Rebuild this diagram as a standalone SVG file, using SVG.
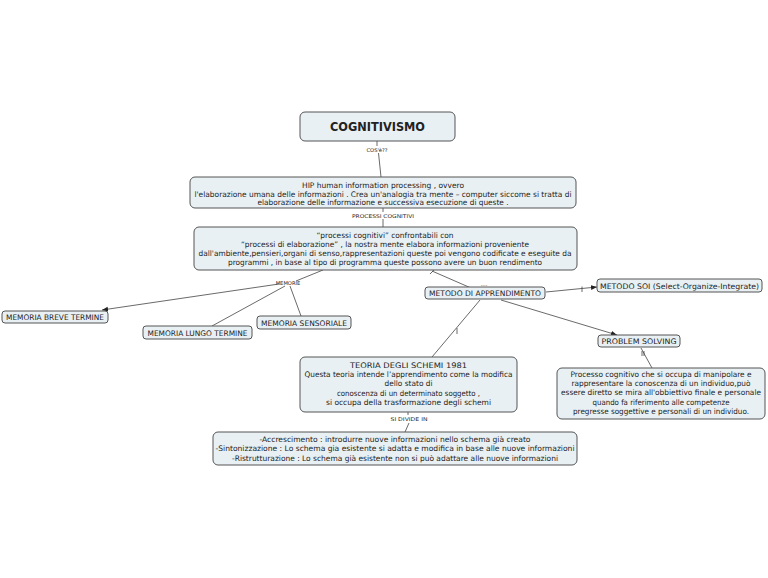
<svg xmlns="http://www.w3.org/2000/svg" width="768" height="578" viewBox="0 0 768 578">
<style>
.box{fill:#e9f0f3;stroke:#555;stroke-width:1}
text{font-family:"DejaVu Sans","Liberation Sans",sans-serif;fill:#222;text-anchor:middle}
.t{font-size:7.6px}
.lb{font-size:5.2px}
.ttl{font-size:12px;font-weight:bold}
.c{stroke:#444;stroke-width:0.8;fill:none}
</style>
<defs>
<marker id="ar" viewBox="0 0 10 10" refX="10" refY="5" markerWidth="6" markerHeight="6" orient="auto" markerUnits="userSpaceOnUse">
<path d="M0,1 L10,5 L0,9 z" fill="#222"/>
</marker>
</defs>
<rect width="768" height="578" fill="#ffffff"/>
<g id="connectors">
<line class="c" x1="377" y1="141" x2="377" y2="146"/>
<line class="c" x1="378.5" y1="153" x2="381" y2="177"/>
<line class="c" x1="383" y1="207" x2="383" y2="212"/>
<line class="c" x1="383" y1="219" x2="383" y2="227"/>
<line class="c" x1="323" y1="270" x2="296" y2="281"/>
<line class="c" x1="279" y1="284" x2="102" y2="310" marker-end="url(#ar)"/>
<line class="c" x1="285" y1="286" x2="212" y2="326"/>
<line class="c" x1="290" y1="286" x2="301" y2="316"/>
<line class="c" x1="432" y1="271" x2="471" y2="288"/>
<line class="c" x1="430" y1="274" x2="434" y2="270"/>
<line class="c" x1="546" y1="292" x2="597" y2="287" marker-end="url(#ar)"/>
<line class="c" x1="582" y1="286.5" x2="582" y2="292"/>
<line class="c" x1="501" y1="300" x2="617" y2="335" marker-end="url(#ar)"/>
<line class="c" x1="480" y1="300" x2="432" y2="357"/>
<line class="c" x1="457" y1="328" x2="457" y2="334"/>
<line class="c" x1="641" y1="348" x2="652" y2="368"/>
<line class="c" x1="642" y1="351" x2="642" y2="356"/>
<line class="c" x1="644" y1="351" x2="644" y2="356"/>
<line class="c" x1="408" y1="412" x2="408" y2="415"/>
<line class="c" x1="409" y1="423" x2="405" y2="432"/>
<text class="lb" x="377" y="152">COS'è??</text>
<text class="lb" x="383" y="218" textLength="62" lengthAdjust="spacingAndGlyphs">PROCESSI COGNITIVI</text>
<text class="lb" x="288" y="285">MEMORIE</text>
<text class="lb" x="484" y="286" font-size="4px">....</text>
<text class="lb" x="409" y="421" textLength="37" lengthAdjust="spacingAndGlyphs">SI DIVIDE IN</text>
</g>
<g id="n-cognitivismo">
<rect class="box" x="300" y="112" width="155" height="29" rx="5"/>
<text class="ttl" x="377.5" y="131" textLength="95" lengthAdjust="spacingAndGlyphs">COGNITIVISMO</text>
</g>
<g id="n-hip">
<rect class="box" x="190" y="177" width="386" height="31" rx="5"/>
<text class="t" x="383" y="188" textLength="162" lengthAdjust="spacingAndGlyphs">HIP human information processing , ovvero</text>
<text class="t" x="383" y="197" textLength="377" lengthAdjust="spacingAndGlyphs">l'elaborazione umana delle informazioni . Crea un'analogia tra mente – computer siccome si tratta di</text>
<text class="t" x="383" y="205" textLength="251" lengthAdjust="spacingAndGlyphs">elaborazione delle informazione e successiva esecuzione di queste .</text>
</g>
<g id="n-processi">
<rect class="box" x="194" y="227" width="383" height="43" rx="5"/>
<text class="t" x="385" y="238" textLength="137" lengthAdjust="spacingAndGlyphs">“processi cognitivi” confrontabili con</text>
<text class="t" x="385" y="247" textLength="288" lengthAdjust="spacingAndGlyphs">“processi di elaborazione” , la nostra mente elabora informazioni proveniente</text>
<text class="t" x="385" y="256" textLength="373" lengthAdjust="spacingAndGlyphs">dall'ambiente,pensieri,organi di senso,rappresentazioni queste poi vengono codificate e eseguite da</text>
<text class="t" x="385" y="265" textLength="314" lengthAdjust="spacingAndGlyphs">programmi , in base al tipo di programma queste possono avere un buon rendimento</text>
</g>
<g id="n-breve">
<rect class="box" x="2" y="311" width="106" height="12" rx="3"/>
<text class="t" x="55" y="320" textLength="98" lengthAdjust="spacingAndGlyphs">MEMORIA BREVE TERMINE</text>
</g>
<g id="n-lungo">
<rect class="box" x="143" y="326" width="109" height="13" rx="3"/>
<text class="t" x="197.5" y="335.5" textLength="100" lengthAdjust="spacingAndGlyphs">MEMORIA LUNGO TERMINE</text>
</g>
<g id="n-sensoriale">
<rect class="box" x="257" y="316" width="94" height="13" rx="3"/>
<text class="t" x="304" y="325.5" textLength="86" lengthAdjust="spacingAndGlyphs">MEMORIA SENSORIALE</text>
</g>
<g id="n-metodo">
<rect class="box" x="425" y="287" width="120" height="12" rx="3"/>
<text class="t" x="485" y="296" textLength="112" lengthAdjust="spacingAndGlyphs">METODO DI APPRENDIMENTO</text>
</g>
<g id="n-soi">
<rect class="box" x="597" y="279" width="165" height="13" rx="3"/>
<text class="t" x="679.5" y="288.5" textLength="159" lengthAdjust="spacingAndGlyphs">METODO SOI (Select-Organize-Integrate)</text>
</g>
<g id="n-problem">
<rect class="box" x="598" y="335" width="82" height="12" rx="3"/>
<text class="t" x="639" y="344" textLength="75" lengthAdjust="spacingAndGlyphs">PROBLEM SOLVING</text>
</g>
<g id="n-processo">
<rect class="box" x="557" y="368" width="208" height="51" rx="5"/>
<text class="t" x="661" y="377" textLength="181" lengthAdjust="spacingAndGlyphs">Processo cognitivo che si occupa di manipolare e</text>
<text class="t" x="661" y="386" textLength="179" lengthAdjust="spacingAndGlyphs">rappresentare la conoscenza di un individuo,può</text>
<text class="t" x="661" y="395" textLength="200" lengthAdjust="spacingAndGlyphs">essere diretto se mira all'obbiettivo finale e personale</text>
<text class="t" x="661" y="404.5" textLength="137" lengthAdjust="spacingAndGlyphs">quando fa riferimento alle competenze</text>
<text class="t" x="661" y="413.5" textLength="176" lengthAdjust="spacingAndGlyphs">pregresse soggettive e personali di un individuo.</text>
</g>
<g id="n-teoria">
<rect class="box" x="300" y="357" width="217" height="55" rx="5"/>
<text class="t" x="408.5" y="367.5" textLength="117" lengthAdjust="spacingAndGlyphs">TEORIA DEGLI SCHEMI 1981</text>
<text class="t" x="408.5" y="376.5" textLength="208" lengthAdjust="spacingAndGlyphs">Questa teoria intende l’apprendimento come la modifica</text>
<text class="t" x="408.5" y="386" textLength="48" lengthAdjust="spacingAndGlyphs">dello stato di</text>
<text class="t" x="408.5" y="395.5" textLength="143" lengthAdjust="spacingAndGlyphs">conoscenza di un determinato soggetto ,</text>
<text class="t" x="408.5" y="404.5" textLength="165" lengthAdjust="spacingAndGlyphs">si occupa della trasformazione degli schemi</text>
</g>
<g id="n-accrescimento">
<rect class="box" x="213" y="432" width="364" height="33" rx="5"/>
<text class="t" x="395" y="442" textLength="271" lengthAdjust="spacingAndGlyphs">-Accrescimento : introdurre nuove informazioni nello schema già creato</text>
<text class="t" x="395" y="451" textLength="359" lengthAdjust="spacingAndGlyphs">-Sintonizzazione : Lo schema gia esistente si adatta e modifica in base alle nuove informazioni</text>
<text class="t" x="395" y="460.5" textLength="326" lengthAdjust="spacingAndGlyphs">-Ristrutturazione : Lo schema già esistente non si può adattare alle nuove informazioni</text>
</g>
</svg>
